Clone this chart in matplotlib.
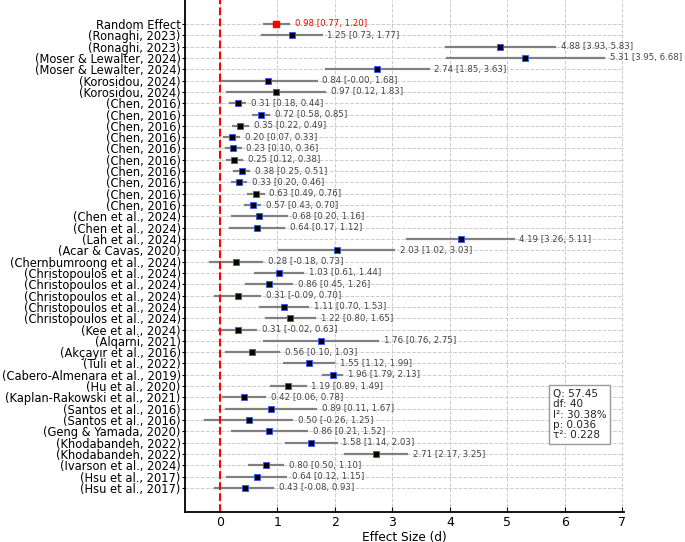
import numpy as np
import matplotlib
matplotlib.use("Agg")
import matplotlib.pyplot as plt

# study labels, top to bottom (first row is the pooled estimate)
labels = [
    "Random Effect",
    "(Ronaghi, 2023)", "(Ronaghi, 2023)",
    "(Moser & Lewalter, 2024)", "(Moser & Lewalter, 2024)",
    "(Korosidou, 2024)", "(Korosidou, 2024)",
    "(Chen, 2016)", "(Chen, 2016)", "(Chen, 2016)", "(Chen, 2016)", "(Chen, 2016)",
    "(Chen, 2016)", "(Chen, 2016)", "(Chen, 2016)", "(Chen, 2016)", "(Chen, 2016)",
    "(Chen et al., 2024)", "(Chen et al., 2024)",
    "(Lah et al., 2024)",
    "(Acar & Cavas, 2020)",
    "(Chernbumroong et al., 2024)",
    "(Christopoulos et al., 2024)", "(Christopoulos et al., 2024)",
    "(Christopoulos et al., 2024)", "(Christopoulos et al., 2024)",
    "(Christopoulos et al., 2024)",
    "(Kee et al., 2024)",
    "(Alqarni, 2021)",
    "(Akçayır et al., 2016)",
    "(Tuli et al., 2022)",
    "(Cabero-Almenara et al., 2019)",
    "(Hu et al., 2020)",
    "(Kaplan-Rakowski et al., 2021)",
    "(Santos et al., 2016)", "(Santos et al., 2016)",
    "(Geng & Yamada, 2020)",
    "(Khodabandeh, 2022)", "(Khodabandeh, 2022)",
    "(Ivarson et al., 2024)",
    "(Hsu et al., 2017)", "(Hsu et al., 2017)",
]

effect = [0.98, 1.25, 4.88, 5.31, 2.74, 0.84, 0.97,
          0.31, 0.72, 0.35, 0.20, 0.23, 0.25, 0.38, 0.33, 0.63, 0.57,
          0.68, 0.64, 4.19, 2.03, 0.28,
          1.03, 0.86, 0.31, 1.11, 1.22, 0.31, 1.76, 0.56, 1.55, 1.96,
          1.19, 0.42, 0.89, 0.50, 0.86, 1.58, 2.71, 0.80, 0.64, 0.43]

ci_low = [0.77, 0.73, 3.93, 3.95, 1.85, -0.00, 0.12,
          0.18, 0.58, 0.22, 0.07, 0.10, 0.12, 0.25, 0.20, 0.49, 0.43,
          0.20, 0.17, 3.26, 1.02, -0.18,
          0.61, 0.45, -0.09, 0.70, 0.80, -0.02, 0.76, 0.10, 1.12, 1.79,
          0.89, 0.06, 0.11, -0.26, 0.21, 1.14, 2.17, 0.50, 0.12, -0.08]

ci_high = [1.20, 1.77, 5.83, 6.68, 3.63, 1.68, 1.83,
           0.44, 0.85, 0.49, 0.33, 0.36, 0.38, 0.51, 0.46, 0.76, 0.70,
           1.16, 1.12, 5.11, 3.03, 0.73,
           1.44, 1.26, 0.70, 1.53, 1.65, 0.63, 2.75, 1.03, 1.99, 2.13,
           1.49, 0.78, 1.67, 1.25, 1.52, 2.03, 3.25, 1.10, 1.15, 0.93]

stats_text = "Q: 57.45\ndf: 40\nI²: 30.38%\np: 0.036\nτ²: 0.228"

fig = plt.figure(figsize=(6.85, 5.42), dpi=100)
ax = fig.add_axes([0.270, 0.0554, 0.641, 0.9446])

y = np.arange(len(labels))
eff = np.array(effect)
lo = np.array(ci_low)
hi = np.array(ci_high)

ax.grid(True, linestyle="--", color="#cccccc", linewidth=0.7)
ax.set_axisbelow(True)

for i in range(len(labels)):
    pooled = (i == 0)
    ax.plot([lo[i], hi[i]], [y[i], y[i]], color="#808080", lw=1.6, zorder=2)
    if pooled:
        ax.plot(eff[i], y[i], "s", color="red", ms=5, zorder=3)
        txt_col = "red"
    else:
        ax.plot(eff[i], y[i], "s", color="black", mec="#3355ff", mew=0.6, ms=5, zorder=3)
        txt_col = "#444444"
    ax.text(hi[i] + 0.1, y[i], f"{eff[i]:.2f} [{lo[i]:.2f}, {hi[i]:.2f}]",
            va="center", ha="left", fontsize=6.2, color=txt_col)

ax.axvline(0, color="red", linestyle="--", lw=1.5, zorder=2.5)

ax.set_yticks(y)
ax.set_yticklabels(labels, fontsize=8.3)
ax.set_ylim(len(labels) - 1 + 2.12, -2.12)
ax.set_xlim(-0.61, 7.03)
ax.set_xticks(range(0, 8))
ax.tick_params(axis="x", direction="in", labelsize=9, length=3.5, pad=3)
ax.tick_params(axis="y", direction="out", length=2.5, pad=0.5)
ax.set_xlabel("Effect Size (d)", fontsize=8.7, labelpad=1)

for side in ["top", "right"]:
    ax.spines[side].set_visible(False)
for side in ["left", "bottom"]:
    ax.spines[side].set_linewidth(1.3)

ax.text(0.838, 0.19, stats_text, transform=ax.transAxes, fontsize=7.5, color="#222222",
        va="center", ha="left", linespacing=1.05,
        bbox=dict(boxstyle="square,pad=0.35", fc="white", ec="#999999", lw=1))

fig.savefig("out.png", dpi=100)
